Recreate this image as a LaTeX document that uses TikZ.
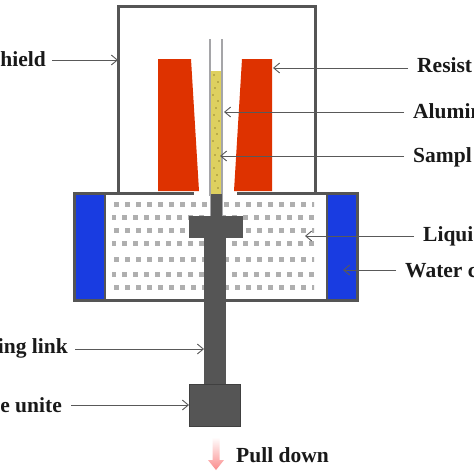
\documentclass[tikz,border=0pt]{standalone}
\usepackage{fontspec}
\setmainfont{Liberation Serif}
\usetikzlibrary{arrows.meta}
\definecolor{wallgray}{RGB}{85,85,85}
\definecolor{tubegray}{RGB}{165,165,168}
\definecolor{dotgray}{RGB}{175,175,175}
\definecolor{coilred}{RGB}{222,50,0}
\definecolor{waterblue}{RGB}{25,60,225}
\definecolor{sampleyellow}{RGB}{222,208,95}
\definecolor{samplespeck}{RGB}{150,135,50}
\definecolor{pullpink}{RGB}{250,140,140}
\tikzset{
  lab/.style={font=\fontsize{21.5}{21.5}\selectfont\bfseries, inner sep=0pt, text=black!90},
  wall/.style={draw=wallgray, line width=3pt},
  lead/.style={draw=black!65, line width=0.9pt, shorten <=9pt, -{Straight Barb[length=6pt,width=10pt,line width=0.9pt]}},
  dotmark/.style={fill=dotgray, draw=none},
}
\begin{document}
\begin{tikzpicture}[x=1pt,y=-1pt]
\useasboundingbox (0,0) rectangle (474,474);
\fill[white] (0,0) rectangle (474,474);
% water jacket and liquid bath
\fill[waterblue] (75,193) rectangle (105,300);
\fill[waterblue] (327,193) rectangle (357,300);
\begin{scope}
\clip (112,195) rectangle (314,298);
\foreach \y in {204,230,259,287}
  \foreach \x in {0,...,18}
    \fill[dotmark] ({114+11*\x},\y-2.5) rectangle +(5,5);
\foreach \y in {217,243,274}
  \foreach \x in {-1,...,18}
    \fill[dotmark] ({122+11*\x},\y-2.5) rectangle +(5,5);
\end{scope}
\draw[wall] (74.5,193.5) rectangle (357.5,300);
\draw[draw=wallgray,line width=1.5pt] (105,193) -- (105,300);
\draw[draw=wallgray,line width=1.5pt] (327,193) -- (327,300);
\fill[white] (194,191) rectangle (237,196);
% shield
\draw[wall] (118,192) -- (118,6) -- (315,6) -- (315,192);
% coils
\fill[coilred] (158,59) -- (191,59) -- (199,191) -- (158,191) -- cycle;
\fill[coilred] (242,59) -- (272,59) -- (272,191) -- (234,191) -- cycle;
% tube and sample
\fill[sampleyellow] (211,71) rectangle (221,196);
\foreach \y/\x in {75/214,82/218,88/215,95/213,101/218,108/216,115/214,121/219,128/215,134/217,141/213,148/218,155/215,161/219,168/214,175/217,181/215,188/218}
  \fill[samplespeck] (\x,\y) circle (0.9);
\draw[tubegray,line width=2pt] (210,39) -- (210,196);
\draw[tubegray,line width=2pt] (222,39) -- (222,196);
% pulling link
\fill[wallgray] (210.5,194) rectangle (221.5,216);
\draw[tubegray,line width=1pt] (210,194) -- (210,216);
\draw[tubegray,line width=1pt] (222,194) -- (222,216);
\fill[wallgray] (189,216) rectangle (243,238);
\fill[wallgray] (204,238) rectangle (226,385);
\draw[fill=wallgray,draw=black!75,line width=1pt] (189.5,384.5) rectangle (240.5,426.5);
% pull arrow
\shade[top color=white, bottom color=pullpink]
  (212.5,437) -- (219.5,437) -- (219.5,460) -- (224,460) -- (216,470) -- (208,460) -- (212.5,460) -- cycle;
% tips
\coordinate (tipshield) at (118,60);
\coordinate (tipresist) at (273,68);
\coordinate (tipalum) at (224,112);
\coordinate (tipsample) at (220,156);
\coordinate (tipliquid) at (305,236);
\coordinate (tipwater) at (343,270);
\coordinate (tiplink) at (204,349);
\coordinate (tipunit) at (189,405);
% labels
\node[lab,anchor=base east] (shield) at (46,66) {hield};
\node[lab,anchor=base west] (resist) at (417,72) {Resist};
\node[lab,anchor=base west] (alum) at (413,118) {Alumin};
\node[lab,anchor=base west] (sample) at (413,162) {Sampl};
\node[lab,anchor=base west] (liquid) at (423,241) {Liqui};
\node[lab,anchor=base west] (water) at (405,277) {Water c};
\node[lab,anchor=base east] (link) at (68,353) {ing link};
\node[lab,anchor=base east] (unit) at (62,412) {e unite};
\node[lab,anchor=base west] (pull) at (236,462) {Pull down};
% leaders
\draw[lead,shorten <=6pt] (shield.east |- tipshield) -- (tipshield);
\draw[lead] (resist.west |- tipresist) -- (tipresist);
\draw[lead] (alum.west |- tipalum) -- (tipalum);
\draw[lead] (sample.west |- tipsample) -- (tipsample);
\draw[lead] (liquid.west |- tipliquid) -- (tipliquid);
\draw[lead] (water.west |- tipwater) -- (tipwater);
\draw[lead,shorten <=7pt] (link.east |- tiplink) -- (tiplink);
\draw[lead,shorten <=9pt] (unit.east |- tipunit) -- (tipunit);
\end{tikzpicture}
\end{document}
